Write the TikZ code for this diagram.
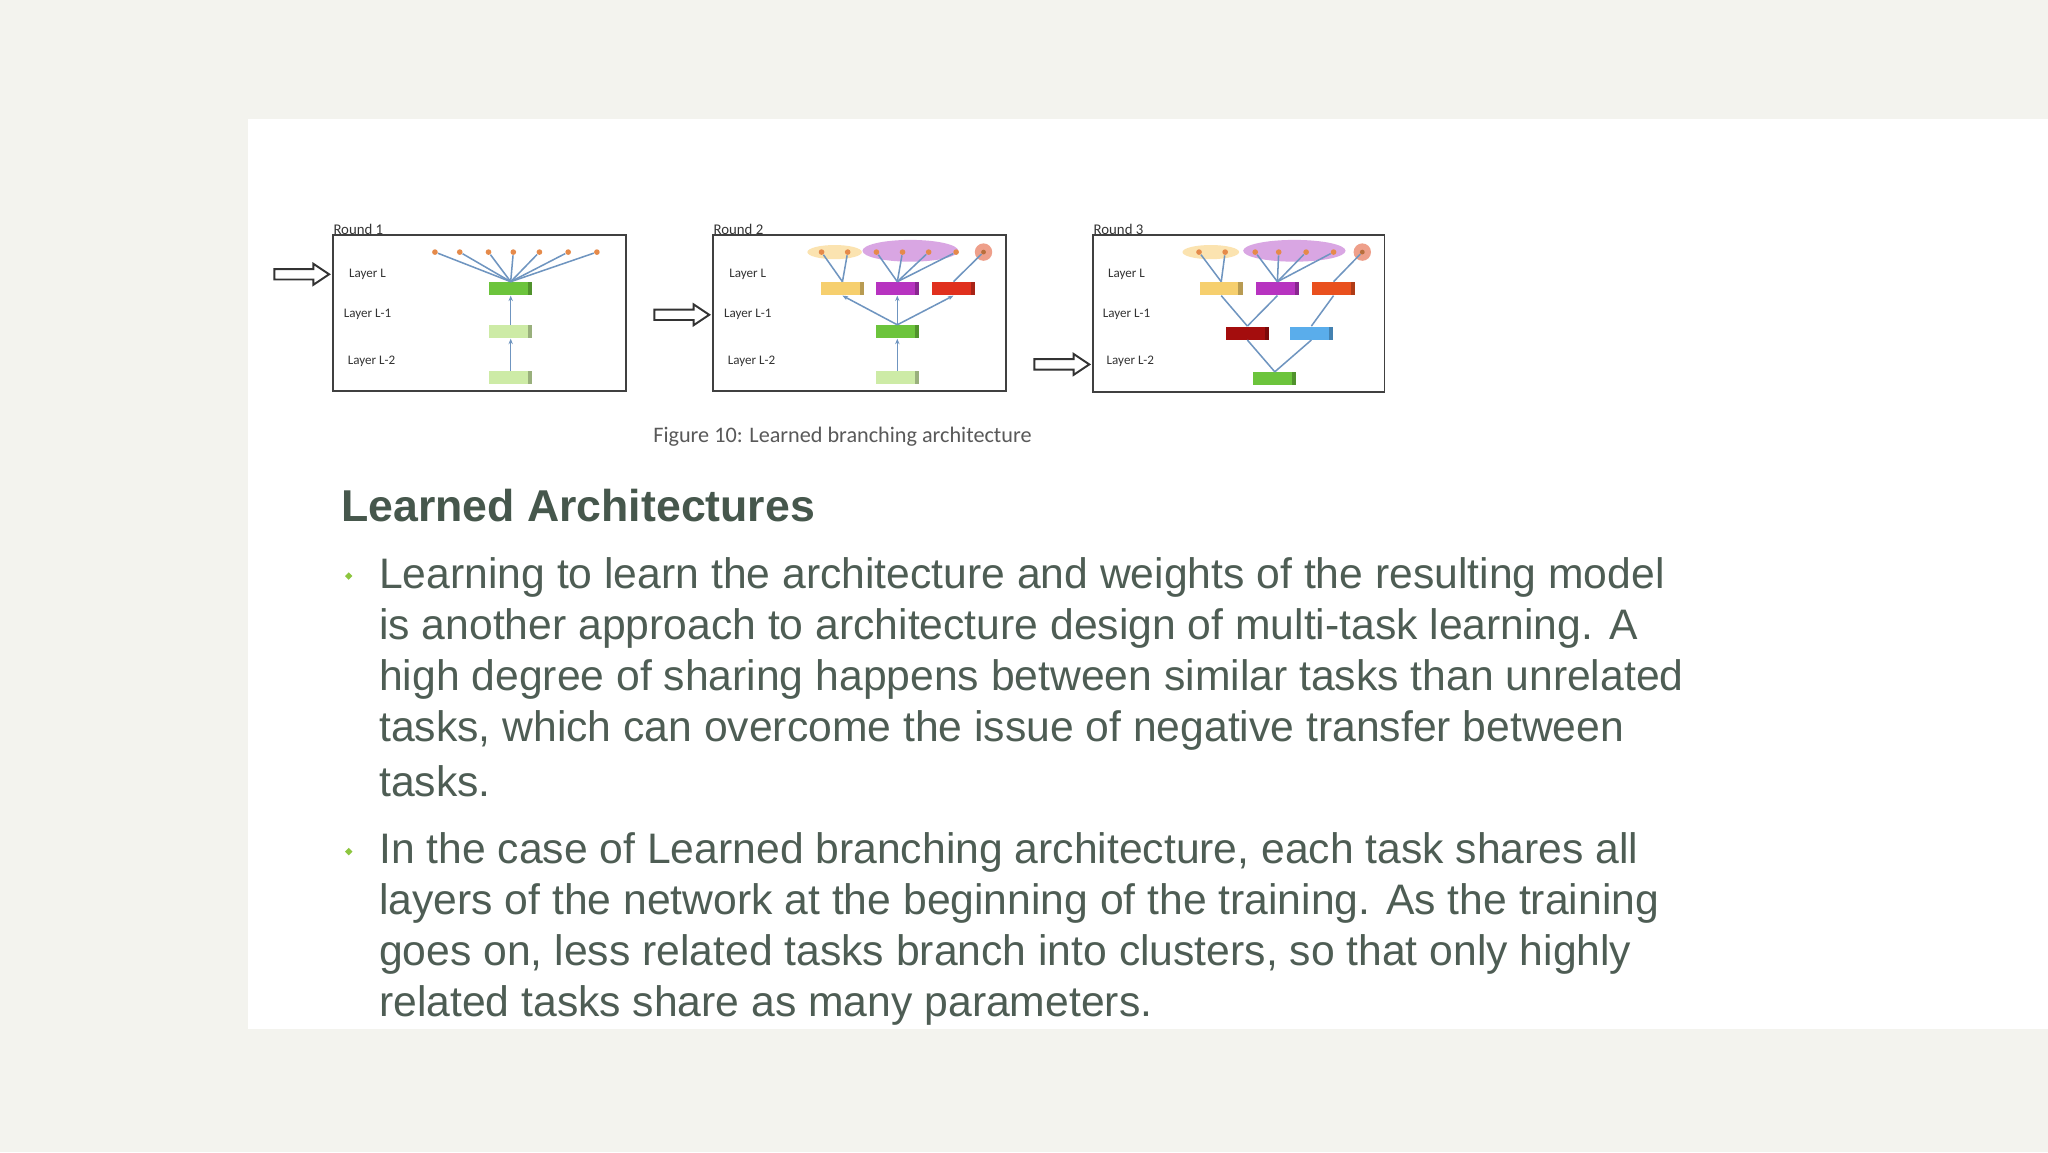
\documentclass[tikz,border=0pt]{standalone}
\usepackage{fontspec}
\setmainfont{Liberation Sans}
\newfontfamily\figfont{Carlito}
\usetikzlibrary{arrows.meta,shapes.geometric}
\definecolor{bgc}{HTML}{F3F3EE}
\definecolor{txt}{HTML}{4E5D54}
\definecolor{hd}{HTML}{46574C}
\definecolor{bul}{HTML}{8DC63F}
\definecolor{edg}{HTML}{6F95C0}
\definecolor{dotc}{HTML}{E58A4A}
\definecolor{gr}{HTML}{6CC43C}
\definecolor{lgr}{HTML}{CDEBA6}
\definecolor{yel}{HTML}{F6CF6E}
\definecolor{pur}{HTML}{B733C0}
\definecolor{redc}{HTML}{E0301E}
\definecolor{orr}{HTML}{E9501E}
\definecolor{drd}{HTML}{A40D0D}
\definecolor{blu}{HTML}{5AADEB}
\definecolor{ylw}{HTML}{FBE3B0}
\definecolor{plw}{HTML}{D9A6E3}
\definecolor{rcw}{HTML}{EE9F8A}
\tikzset{
 blk/.style={inner sep=0pt,minimum width=19.8pt,minimum height=6pt,fill=#1,
   path picture={\fill[black,opacity=0.25] ([xshift=-2pt]path picture bounding box.north east) rectangle (path picture bounding box.south east);}},
 dotn/.style={circle,fill=dotc,inner sep=0pt,minimum size=2.6pt},
 edge/.style={draw=edg,line width=0.7pt},
 aedge/.style={edge,-{Stealth[length=2.5pt,width=2pt]}},
 frame/.style={draw=black!75,line width=0.9pt,inner sep=0pt},
 lay/.style={font=\figfont\fontsize{6}{7}\selectfont,text=black!80,anchor=west,inner sep=0pt},
 rnd/.style={font=\figfont\fontsize{6.8}{8}\selectfont,text=black!80,anchor=south west,inner sep=0pt},
 body/.style={font=\fontsize{19.6}{23}\selectfont,text=txt,anchor=west,inner sep=0pt},
 bullet/.style={diamond,fill=bul,inner sep=0pt,minimum size=3.6pt},
 hollow/.style={draw=black!80,line width=0.9pt,fill=white}
}
\begin{document}
\begin{tikzpicture}[x=0.6pt,y=-0.6pt]
\useasboundingbox (0,0) rectangle (1568,882);
\fill[bgc] (0,0) rectangle (1568,882);
\fill[white] (190,91) rectangle (1568,788);
% frames
\draw[frame] (255,180) rectangle (479,299);
\draw[frame] (546,180) rectangle (770,299);
\draw[frame] (837,180) rectangle (1060,300);
\node[rnd] (r1) at (255,180) {Round 1};
\node[rnd] (r2) at (546,180) {Round 2};
\node[rnd] (r3) at (837,180) {Round 3};
% hollow arrows
\foreach \x/\y in {210/210,501/241,792/279}{
 \draw[hollow] (\x,\y-4) -- (\x+30,\y-4) -- (\x+30,\y-8) -- (\x+42,\y) -- (\x+30,\y+8) -- (\x+30,\y+4) -- (\x,\y+4) -- cycle;}
% layer labels
\foreach \dx/\n in {0/a,291/b,581/c}{
 \node[lay] (l0\n) at (267+\dx,210) {Layer L};
 \node[lay] (l1\n) at (263+\dx,241) {Layer L-1};
 \node[lay] (l2\n) at (266+\dx,277) {Layer L-2};}
% Round 1
\node[blk=gr] (a1) at (391,221) {};
\node[blk=lgr] (a2) at (391,254) {};
\node[blk=lgr] (a3) at (391,289) {};
\foreach \x [count=\i] in {333,352,374,393,413,435,457}{
 \node[dotn] (ad\i) at (\x,193) {};
 \draw[edge] (ad\i) -- (a1.north);}
\draw[aedge] (a2) -- (a1);
\draw[aedge] (a3) -- (a2);
% Round 2
\node[ellipse,fill=ylw,minimum width=25pt,minimum height=6.5pt,inner sep=0pt] (be1) at (639,193) {};
\node[ellipse,fill=plw,minimum width=44pt,minimum height=10pt,inner sep=0pt] (be2) at (697,192) {};
\node[circle,fill=rcw,minimum size=8pt,inner sep=0pt] (be3) at (753,193) {};
\node[circle,fill=dotc!80!black,minimum size=2.2pt,inner sep=0pt] (bc) at (753,193) {};
\foreach \x [count=\i] in {629,649,671,691,711,732}{\node[dotn] (bd\i) at (\x,193) {};}
\node[blk=yel] (b1) at (645,221) {};
\node[blk=pur] (b2) at (687,221) {};
\node[blk=redc] (b3) at (730,221) {};
\node[blk=gr] (b4) at (687,254) {};
\node[blk=lgr] (b5) at (687,289) {};
\foreach \i in {1,2}{\draw[edge] (bd\i) -- (b1.north);}
\foreach \i in {3,4,5,6}{\draw[edge] (bd\i) -- (b2.north);}
\draw[edge] (bc) -- (b3.north);
\foreach \i in {1,2,3}{\draw[aedge] (b4.north) -- (b\i.south);}
\draw[aedge] (b5) -- (b4);
% Round 3
\node[ellipse,fill=ylw,minimum width=26pt,minimum height=6.5pt,inner sep=0pt] (ce1) at (927,193) {};
\node[ellipse,fill=plw,minimum width=47pt,minimum height=10pt,inner sep=0pt] (ce2) at (991,192) {};
\node[circle,fill=rcw,minimum size=8pt,inner sep=0pt] (ce3) at (1043,193) {};
\node[circle,fill=dotc!80!black,minimum size=2.2pt,inner sep=0pt] (cc) at (1043,193) {};
\foreach \x [count=\i] in {918,938,961,979,1000,1021}{\node[dotn] (cd\i) at (\x,193) {};}
\node[blk=yel] (c1) at (935,221) {};
\node[blk=pur] (c2) at (978,221) {};
\node[blk=orr] (c3) at (1021,221) {};
\node[blk=drd] (c4) at (955,255) {};
\node[blk=blu] (c5) at (1004,255) {};
\node[blk=gr] (c6) at (976,290) {};
\foreach \i in {1,2}{\draw[edge] (cd\i) -- (c1.north);}
\foreach \i in {3,4,5,6}{\draw[edge] (cd\i) -- (c2.north);}
\draw[edge] (cc) -- (c3.north);
\draw[edge] (c1.south) -- (c4.north);
\draw[edge] (c2.south) -- (c4.north);
\draw[edge] (c3.south) -- (c5.north);
\draw[edge] (c4.south) -- (c6.north);
\draw[edge] (c5.south) -- (c6.north);
% caption
\node[font=\figfont\fontsize{10.2}{12}\selectfont,text=black!65,inner sep=0pt] (cap) at (645,334) {Figure 10: Learned branching architecture};
% heading
\node[font=\bfseries\fontsize{20.5}{24}\selectfont,text=hd,anchor=west,inner sep=0pt] (h) at (261,387) {Learned Architectures};
% bullets
\node[bullet] (bu1) at (267,441) {};
\node[bullet] (bu2) at (267,652) {};
\node[body] (t1) at (290,442) {Learning to learn the architecture and weights of the resulting model};
\node[body] (t2) at (290,481) {is another approach to architecture design of multi-task learning. A};
\node[body] (t3) at (290,520) {high degree of sharing happens between similar tasks than unrelated};
\node[body] (t4) at (290,559) {tasks, which can overcome the issue of negative transfer between};
\node[body] (t5) at (290,598) {tasks.};
\node[body] (t6) at (290,653) {In the case of Learned branching architecture, each task shares all};
\node[body] (t7) at (290,692) {layers of the network at the beginning of the training. As the training};
\node[body] (t8) at (290,731) {goes on, less related tasks branch into clusters, so that only highly};
\node[body] (t9) at (290,770) {related tasks share as many parameters.};
\end{tikzpicture}
\end{document}
